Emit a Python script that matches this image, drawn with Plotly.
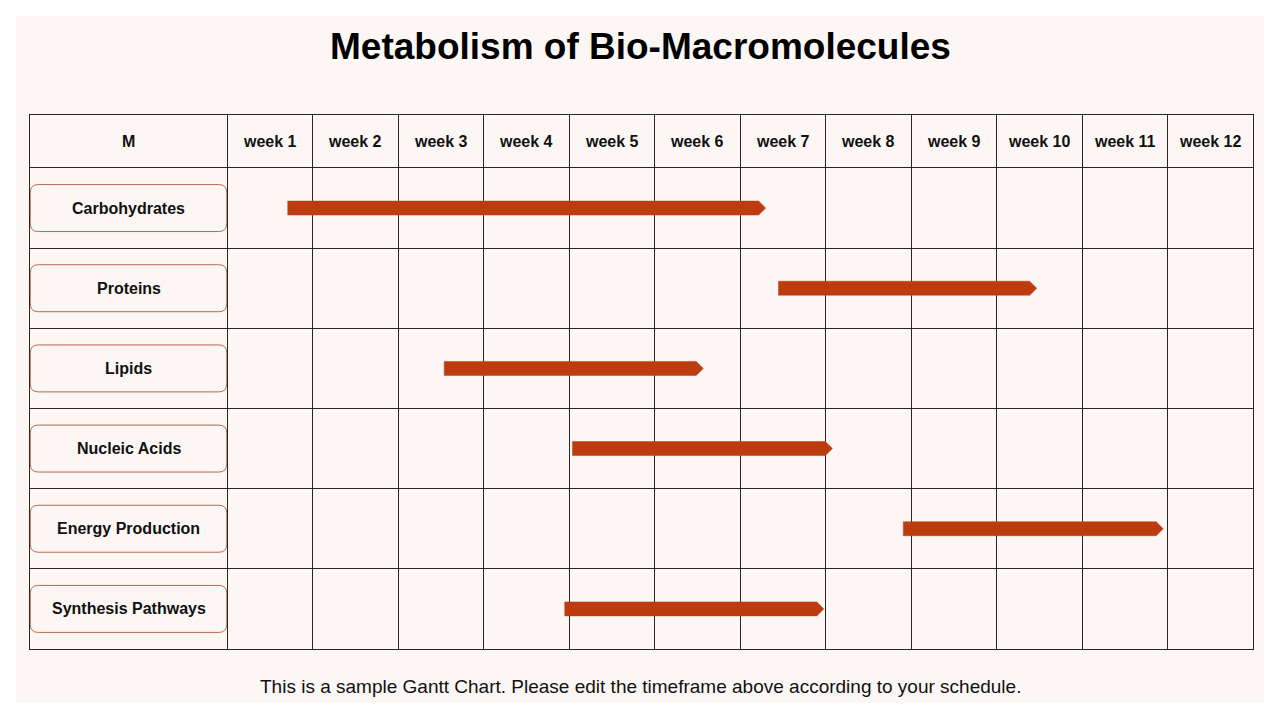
import plotly.graph_objects as go

# ---------------- data ----------------
title = "Metabolism of Bio-Macromolecules"
corner_label = "M"
weeks = [f"week {i}" for i in range(1, 13)]
tasks = ["Carbohydrates", "Proteins", "Lipids", "Nucleic Acids",
         "Energy Production", "Synthesis Pathways"]
start_week = [0.71, 6.45, 2.54, 4.04, 7.91, 3.95]   # in weeks from start of week 1
end_week = [6.30, 9.47, 5.57, 7.08, 10.95, 6.98]    # arrow tip
footer = "This is a sample Gantt Chart. Please edit the timeframe above according to your schedule."

# ---------------- styling ----------------
W, H = 1280, 720
L, R, T, B = 30, 27.3, 115, 70.7
plot_w = W - L - R
plot_h = H - T - B
n_weeks = len(weeks)
week_px = (1252.7 - 227) / n_weeks
label_col = -(227 - 30) / week_px          # x of left border in week units
n_rows = len(tasks)
row_px = (649.3 - 168) / n_rows
header_h = (168 - 115) / row_px             # header height in row units

cream = "#FCF7F4"
bar_col = "#BC3C0F"
grid_col = "#262626"
box_col = "#B8694C"
FONT = "Liberation Sans, Arial, sans-serif"

fig = go.Figure()

# bars with arrow heads
head_x = 7 / week_px
half_h = 7 / row_px
for i, (s, e) in enumerate(zip(start_week, end_week)):
    c = i + 0.5
    xs = [s, e - head_x, e, e - head_x, s, s]
    ys = [c - half_h, c - half_h, c, c + half_h, c + half_h, c - half_h]
    fig.add_trace(go.Scatter(x=xs, y=ys, fill="toself", fillcolor=bar_col,
                             line=dict(color=bar_col, width=0.5), mode="lines",
                             hoverinfo="text", text=tasks[i], showlegend=False))

shapes = []
# cream panel
shapes.append(dict(type="rect", xref="paper", yref="paper", layer="below",
                   x0=(16 - L) / plot_w, x1=(1264 - L) / plot_w,
                   y0=(H - B - 703) / plot_h, y1=(H - B - 16) / plot_h,
                   fillcolor=cream, line=dict(width=0)))

# rounded label boxes
rx = 8 / week_px
ry = 8 / row_px
bh = 23.5 / row_px
for i in range(n_rows):
    c = i + 0.5
    x0, x1 = label_col + 0.3 / week_px, -0.3 / week_px
    y0, y1 = c - bh, c + bh
    path = (f"M {x0+rx},{y0} L {x1-rx},{y0} Q {x1},{y0} {x1},{y0+ry} "
            f"L {x1},{y1-ry} Q {x1},{y1} {x1-rx},{y1} L {x0+rx},{y1} "
            f"Q {x0},{y1} {x0},{y1-ry} L {x0},{y0+ry} Q {x0},{y0} {x0+rx},{y0} Z")
    shapes.append(dict(type="path", path=path, xref="x", yref="y", layer="below",
                       fillcolor=cream, line=dict(color=box_col, width=1)))

annotations = []
hdr_font = dict(family=FONT, size=16, color="#111")
annotations.append(dict(text=f"<b>{corner_label}</b>", x=label_col / 2, y=-header_h / 2,
                        xref="x", yref="y", showarrow=False, font=hdr_font))
for j, wk in enumerate(weeks):
    annotations.append(dict(text=f"<b>{wk}</b>", x=j + 0.5, y=-header_h / 2,
                            xref="x", yref="y", showarrow=False, font=hdr_font))
for i, t in enumerate(tasks):
    annotations.append(dict(text=f"<b>{t}</b>", x=label_col / 2, y=i + 0.5,
                            xref="x", yref="y", showarrow=False, font=hdr_font))
annotations.append(dict(text=f"<b>{title}</b>", x=(640 - L) / plot_w, y=(H - B - 46) / plot_h,
                        xref="paper", yref="paper", showarrow=False,
                        xanchor="center", yanchor="middle",
                        font=dict(family=FONT, size=37, color="#000")))
annotations.append(dict(text=footer, x=(640 - L) / plot_w, y=(H - B - 687) / plot_h,
                        xref="paper", yref="paper", showarrow=False,
                        xanchor="center", yanchor="middle",
                        font=dict(family=FONT, size=19, color="#111")))

fig.update_layout(
    width=W, height=H,
    margin=dict(l=L, r=R, t=T, b=B, pad=0),
    paper_bgcolor="white", plot_bgcolor="rgba(0,0,0,0)",
    shapes=shapes, annotations=annotations, showlegend=False,
    xaxis=dict(range=[label_col, n_weeks], tickvals=list(range(0, n_weeks + 1)),
               showticklabels=False, ticks="", showgrid=True, gridcolor=grid_col,
               gridwidth=1.4, zeroline=False, showline=True, linecolor=grid_col,
               linewidth=1.4, mirror=True, fixedrange=True),
    yaxis=dict(range=[n_rows, -header_h], tickvals=list(range(0, n_rows + 1)),
               showticklabels=False, ticks="", showgrid=True, gridcolor=grid_col,
               gridwidth=1.4, zeroline=False, showline=True, linecolor=grid_col,
               linewidth=1.4, mirror=True, fixedrange=True),
)

fig.write_html("out.html")
